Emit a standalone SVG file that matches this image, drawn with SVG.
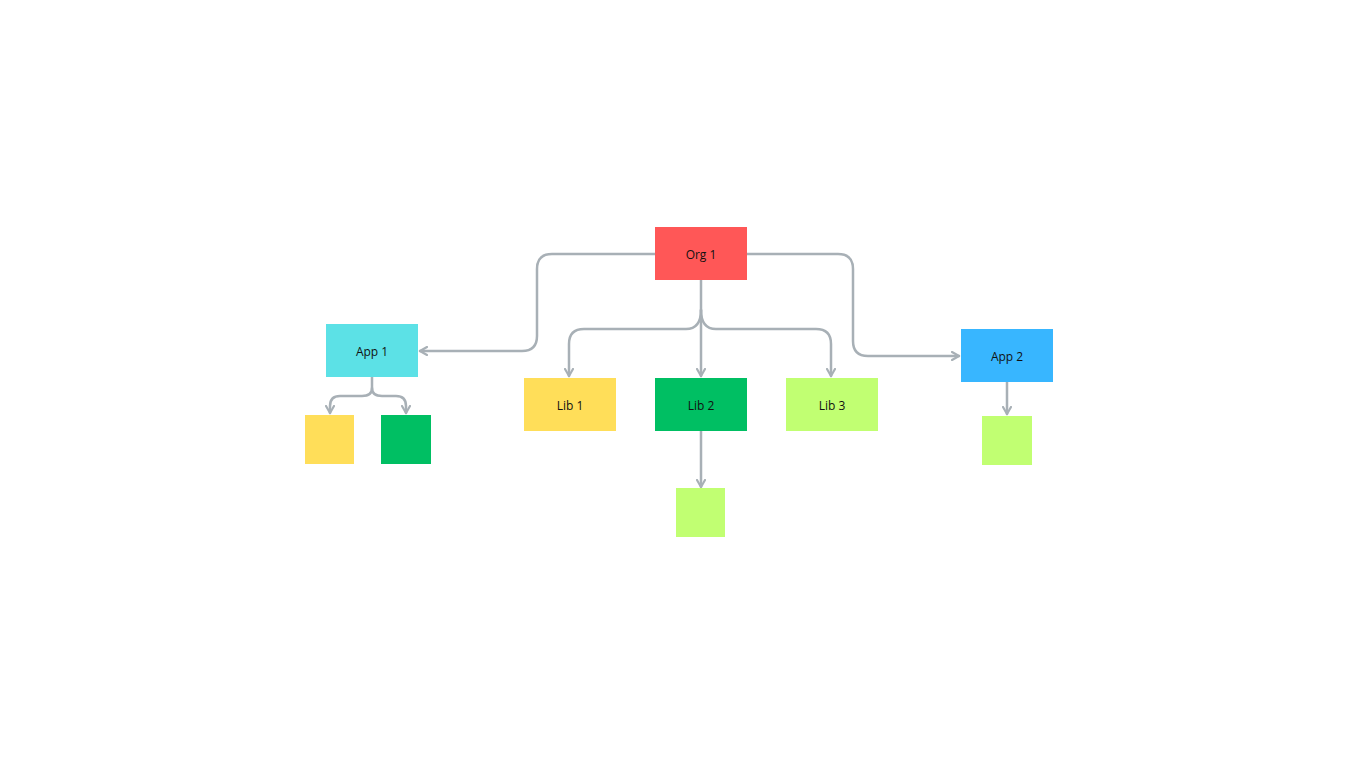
<svg xmlns="http://www.w3.org/2000/svg" width="1358" height="764" viewBox="0 0 1358 764">
<style>
text{font-family:"Open Sans","Liberation Sans",sans-serif;font-size:12px;fill:#111;text-anchor:middle;dominant-baseline:central}
.c{fill:none;stroke:#a8b0b6;stroke-width:2.5;stroke-linecap:round;stroke-linejoin:round}
</style>
<defs><marker id="a" viewBox="0 0 10 10" refX="8" refY="5" markerWidth="4" markerHeight="4" orient="auto"><path d="M1,1 L8,5 L1,9" fill="none" stroke="#a8b0b6" stroke-width="2.2" stroke-linecap="round" stroke-linejoin="round"/></marker></defs>
<rect width="1358" height="764" fill="#fff"/>
<g id="connectors" class="c" marker-end="url(#a)">
<path d="M655,254 H552 Q537,254 537,269 V336 Q537,351 522,351 H420"/>
<path d="M747,254 H838 Q853,254 853,269 V341 Q853,356 868,356 H959"/>
<path d="M701,280 V376"/>
<path d="M701,310 Q701,329 686,329 H584 Q569,329 569,344 V376"/>
<path d="M701,310 Q701,329 716,329 H816 Q831,329 831,344 V376"/>
<path d="M372,377 V388 Q372,396 362,396 H340 Q330,396 330,406 V413"/>
<path d="M372,388 Q372,396 382,396 H396 Q406,396 406,406 V413"/>
<path d="M701,431 V487"/>
<path d="M1007,382 V414"/>
</g>
<g id="org1"><rect x="655" y="227" width="92" height="53" fill="#ff5757"/><text x="701" y="254">Org 1</text></g>
<g id="app1"><rect x="326" y="324" width="92" height="53" fill="#5ce1e6"/><text x="372" y="351">App 1</text></g>
<g id="lib1"><rect x="524" y="378" width="92" height="53" fill="#ffde59"/><text x="570" y="405">Lib 1</text></g>
<g id="lib2"><rect x="655" y="378" width="92" height="53" fill="#00bf63"/><text x="701" y="405">Lib 2</text></g>
<g id="lib3"><rect x="786" y="378" width="92" height="53" fill="#c1ff72"/><text x="832" y="405">Lib 3</text></g>
<g id="app2"><rect x="961" y="329" width="92" height="53" fill="#38b6ff"/><text x="1007" y="356">App 2</text></g>
<g id="s1"><rect x="305" y="415" width="49" height="49" fill="#ffde59"/></g>
<g id="s2"><rect x="381" y="415" width="50" height="49" fill="#00bf63"/></g>
<g id="s3"><rect x="676" y="488" width="49" height="49" fill="#c1ff72"/></g>
<g id="s4"><rect x="982" y="416" width="50" height="49" fill="#c1ff72"/></g>
</svg>
